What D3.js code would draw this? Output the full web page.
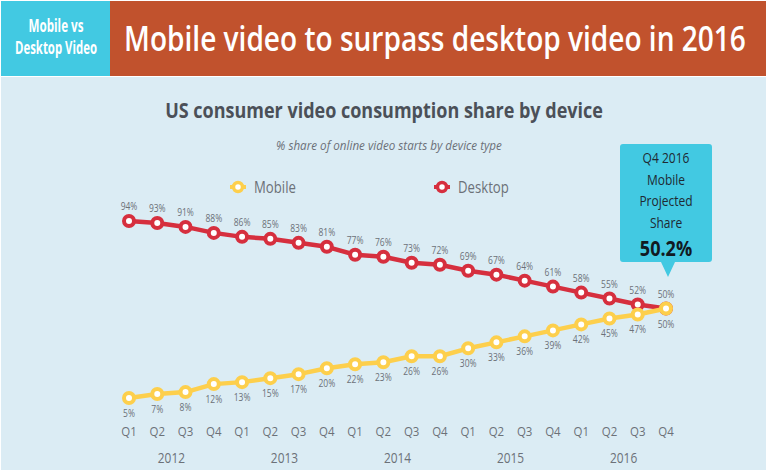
<!DOCTYPE html>
<html>
<head>
<script src="https://d3js.org/d3.v7.min.js"></script>
<style>
  body { margin: 0; background: #ffffff; }
  svg text { font-family: "Open Sans", "Noto Sans", sans-serif; }
</style>
</head>
<body>
<div id="chart"></div>
<script>
// data
const quarters = ["Q1","Q2","Q3","Q4","Q1","Q2","Q3","Q4","Q1","Q2","Q3","Q4","Q1","Q2","Q3","Q4","Q1","Q2","Q3","Q4"];
const years = ["2012","2013","2014","2015","2016"];
const desktop = [94,93,91,88,86,85,83,81,77,76,73,72,69,67,64,61,58,55,52,50];
const mobile = [5,7,8,12,13,15,17,20,22,23,26,26,30,33,36,39,42,45,47,50];
const calloutLines = ["Q4 2016","Mobile","Projected","Share"];
const calloutValue = "50.2%";

const width = 768, height = 473;
const red = "#d62f3e", yellow = "#fdcf4c", grey = "#6c7178";

const svg = d3.select("#chart").append("svg")
  .attr("width", width).attr("height", height);

// squeeze text horizontally, the original uses a condensed face
function condense(sel, f) {
  sel.each(function () {
    const w = this.getComputedTextLength();
    d3.select(this).attr("textLength", w * f).attr("lengthAdjust", "spacingAndGlyphs");
  });
}

// squeeze with a transform so the box really is the drawn width
function fitWidth(sel, x, y, target) {
  const w = sel.node().getComputedTextLength();
  sel.attr("x", 0).attr("y", 0)
    .attr("transform", `translate(${x},${y}) scale(${target / w},1)`);
}

// header + background
svg.append("rect").attr("x", 1).attr("y", 77).attr("width", 765).attr("height", 393).attr("fill", "#dbecf4");
svg.append("rect").attr("x", 1).attr("y", 1).attr("width", 109).attr("height", 75).attr("fill", "#42c9e2");
svg.append("rect").attr("x", 110).attr("y", 1).attr("width", 656).attr("height", 75).attr("fill", "#c1522d");

svg.append("text").attr("text-anchor", "middle")
  .attr("fill", "#fff").attr("font-weight", 700).attr("font-size", 17)
  .text("Mobile vs").call(fitWidth, 56, 32, 55);
svg.append("text").attr("text-anchor", "middle")
  .attr("fill", "#fff").attr("font-weight", 700).attr("font-size", 17)
  .text("Desktop Video").call(fitWidth, 56, 54, 82);

svg.append("text").attr("text-anchor", "middle")
  .attr("fill", "#fff").attr("font-weight", 600).attr("font-size", 34)
  .text("Mobile video to surpass desktop video in 2016")
  .call(fitWidth, 435, 51, 622);

// titles
svg.append("text").attr("text-anchor", "middle")
  .attr("fill", "#4b5058").attr("font-weight", 700).attr("font-size", 21.5)
  .text("US consumer video consumption share by device")
  .call(fitWidth, 384, 118, 438);
svg.append("text").attr("text-anchor", "middle")
  .attr("fill", "#6b7078").attr("font-style", "italic").attr("font-size", 13)
  .text("% share of online video starts by device type")
  .call(fitWidth, 389, 150, 226);

// scales
const x = d3.scalePoint().domain(d3.range(quarters.length)).range([129, 666]);
const y = d3.scaleLinear().domain([0, 100]).range([408, 209]);

const line = d3.line().x((d, i) => x(i)).y(d => y(d));

function drawSeries(data, color) {
  const g = svg.append("g");
  g.append("path").datum(data).attr("d", line)
    .attr("fill", "none").attr("stroke", color).attr("stroke-width", 4.5)
    .attr("stroke-linejoin", "round");
  g.selectAll("circle").data(data).join("circle")
    .attr("cx", (d, i) => x(i)).attr("cy", d => y(d)).attr("r", 5)
    .attr("fill", "#fff").attr("stroke", color).attr("stroke-width", 4);
  return g;
}

drawSeries(desktop, red);
drawSeries(mobile, yellow);

// value labels
svg.append("g").selectAll("text").data(desktop).join("text")
  .attr("x", (d, i) => x(i)).attr("y", d => y(d) - 11)
  .attr("text-anchor", "middle").attr("fill", grey).attr("font-size", 10)
  .text(d => d + "%").call(condense, 0.85);
svg.append("g").selectAll("text").data(mobile).join("text")
  .attr("x", (d, i) => x(i)).attr("y", d => y(d) + 19)
  .attr("text-anchor", "middle").attr("fill", grey).attr("font-size", 10)
  .text(d => d + "%").call(condense, 0.85);

// x axis labels
svg.append("g").selectAll("text").data(quarters).join("text")
  .attr("x", (d, i) => x(i)).attr("y", 436)
  .attr("text-anchor", "middle").attr("fill", grey).attr("font-size", 13.5)
  .text(d => d).call(condense, 0.85);
svg.append("g").selectAll("text").data(years).join("text")
  .attr("x", (d, i) => (x(i * 4 + 1) + x(i * 4 + 2)) / 2).attr("y", 463)
  .attr("text-anchor", "middle").attr("fill", grey).attr("font-size", 14)
  .text(d => d).call(condense, 0.85);

// legend
const legend = [["Mobile", yellow, 238], ["Desktop", red, 442]];
legend.forEach(([name, color, lx]) => {
  svg.append("line").attr("x1", lx - 8).attr("x2", lx + 8).attr("y1", 187).attr("y2", 187)
    .attr("stroke", color).attr("stroke-width", 4);
  svg.append("circle").attr("cx", lx).attr("cy", 187).attr("r", 4.5)
    .attr("fill", "#fff").attr("stroke", color).attr("stroke-width", 3.5);
  svg.append("text").attr("x", lx + 16).attr("y", 193).attr("fill", grey)
    .attr("font-size", 15.5).text(name).call(condense, 0.85);
});

// callout
const cx0 = 620, cy0 = 144, cw = 92, ch = 118;
const tipX = x(quarters.length - 1) + 2;
svg.append("path")
  .attr("d", `M${cx0 + 3},${cy0} H${cx0 + cw - 3} Q${cx0 + cw},${cy0} ${cx0 + cw},${cy0 + 3} V${cy0 + ch - 3} Q${cx0 + cw},${cy0 + ch} ${cx0 + cw - 3},${cy0 + ch} H${tipX + 7} L${tipX},${cy0 + ch + 15} L${tipX - 7},${cy0 + ch} H${cx0 + 3} Q${cx0},${cy0 + ch} ${cx0},${cy0 + ch - 3} V${cy0 + 3} Q${cx0},${cy0} ${cx0 + 3},${cy0} Z`)
  .attr("fill", "#42c9e2");
svg.append("g").selectAll("text").data(calloutLines).join("text")
  .attr("x", cx0 + cw / 2).attr("y", (d, i) => 163 + i * 21.7)
  .attr("text-anchor", "middle").attr("fill", "#1f2a33").attr("font-size", 15)
  .text(d => d).call(condense, 0.8);
svg.append("text").attr("x", cx0 + cw / 2).attr("y", 256)
  .attr("text-anchor", "middle").attr("fill", "#111a22").attr("font-weight", 700)
  .attr("font-size", 22).text(calloutValue).call(condense, 0.82);
</script>
</body>
</html>
